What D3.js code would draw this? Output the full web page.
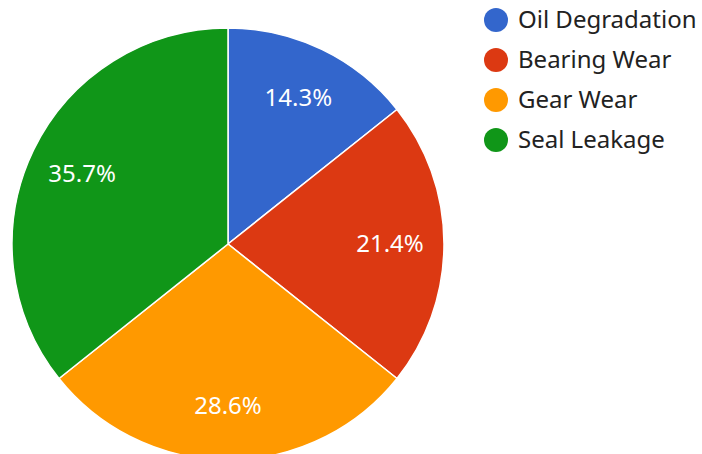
<!DOCTYPE html>
<html>
<head>
  <script src="https://d3js.org/d3.v7.min.js"></script>
  <style>
    html, body {
      margin: 0px;
      padding: 0px;
      background: #fff;
      font-family: "Noto Sans", "Open Sans", sans-serif;
    }
    .sliceLabel {
      font-size: 24px;
      fill: #fff;
    }
    .legendLabel {
      font-size: 24px;
      fill: #222;
    }
  </style>
</head>
<body>
  <div id="chart"></div>
  <script>

      const width = 702;
      const height = 454;

      // data
      const categories = ["Oil Degradation", "Bearing Wear", "Gear Wear", "Seal Leakage"];
      const values = [14.3, 21.4, 28.6, 35.7];
      const colors = ["#3366cc", "#dc3912", "#ff9900", "#109618"];

      const svg = d3.select("#chart")
        .append("svg")
        .attr("width", width)
        .attr("height", height);

      const cx = 228, cy = 244, radius = 216;

      const colorScale = d3.scaleOrdinal()
        .domain(categories)
        .range(colors);

      const data = categories.map(function(c, i) { return {name: c, value: values[i]}; });

      const pie = d3.pie()
        .sort(null)
        .value(function(d) { return d.value; });

      const arc = d3.arc().innerRadius(0).outerRadius(radius);
      const labelArc = d3.arc().innerRadius(radius * 0.75).outerRadius(radius * 0.75);

      const total = d3.sum(values);

      const g = svg.append("g")
        .attr("transform", `translate(${cx},${cy})`);

      g.selectAll("path")
        .data(pie(data))
        .enter()
        .append("path")
          .attr("d", arc)
          .attr("fill", function(d) { return colorScale(d.data.name); })
          .attr("stroke", "#fff")
          .attr("stroke-width", 1.5);

      g.selectAll(".sliceLabel")
        .data(pie(data))
        .enter()
        .append("text")
          .attr("class", "sliceLabel")
          .attr("transform", function(d) { return `translate(${labelArc.centroid(d)})`; })
          .attr("text-anchor", "middle")
          .attr("dy", "0.35em")
          .text(function(d) { return (d.data.value / total * 100).toFixed(1) + "%"; });

      /*
      LEGEND
      */
      const legend = svg.append("g")
        .attr("transform", "translate(496,20)");

      const item = legend.selectAll("g")
        .data(categories)
        .enter()
        .append("g")
          .attr("transform", function(d, i) { return `translate(0,${i * 40})`; });

      item.append("circle")
        .attr("r", 12)
        .attr("fill", function(d) { return colorScale(d); });

      item.append("text")
        .attr("class", "legendLabel")
        .attr("x", 22)
        .attr("dy", "0.35em")
        .text(function(d) { return d; });

  </script>
</body>
</html>
